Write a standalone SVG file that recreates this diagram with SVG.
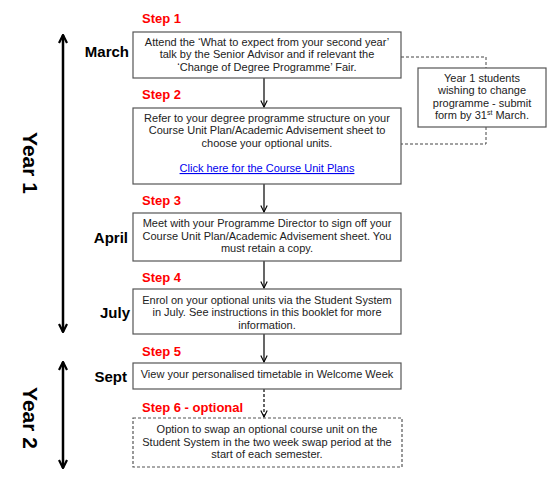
<svg xmlns="http://www.w3.org/2000/svg" width="554" height="483" viewBox="0 0 554 483">
<style>
.box{fill:#fff;stroke:#555;stroke-width:1.2}
.dbox{fill:#fff;stroke:#555;stroke-width:1.2;stroke-dasharray:3,2}
.t{font-family:"Liberation Sans",Arial,sans-serif;font-size:11px;fill:#222;text-anchor:middle}
.step{font-family:"Liberation Sans",Arial,sans-serif;font-size:13px;font-weight:bold;fill:#ff0000}
.mon{font-family:"Liberation Sans",Arial,sans-serif;font-size:15px;font-weight:bold;fill:#000;text-anchor:end}
.yr{font-family:"Liberation Sans",Arial,sans-serif;font-size:21px;font-weight:bold;fill:#000;text-anchor:middle}
.link{fill:#0000ee;text-decoration:underline}
.conn{stroke:#000;stroke-width:1.2;fill:none}
.dconn{stroke:#000;stroke-width:1.2;fill:none;stroke-dasharray:3,2}
.side{stroke:#444;stroke-width:1;fill:none;stroke-dasharray:3,2}
.ya{stroke:#000;stroke-width:2.5;fill:none}
</style>
<defs>
<marker id="ah" viewBox="0 0 10 10" refX="9" refY="5" markerWidth="8" markerHeight="8" markerUnits="userSpaceOnUse" orient="auto">
<path d="M1,1 L9,5 L1,9" fill="none" stroke="#000" stroke-width="1.4"/>
</marker>
<marker id="yh" viewBox="0 0 10 10" refX="9" refY="5" markerWidth="10" markerHeight="10" markerUnits="userSpaceOnUse" orient="auto-start-reverse">
<path d="M1,1 L9,5 L1,9" fill="none" stroke="#000" stroke-width="2.2"/>
</marker>
</defs>

<g id="year1">
<line class="ya" x1="63" y1="35" x2="63" y2="332" marker-start="url(#yh)" marker-end="url(#yh)"/>
<text class="yr" transform="translate(23,163) rotate(90)">Year 1</text>
</g>
<g id="year2">
<line class="ya" x1="63" y1="362" x2="63" y2="468" marker-start="url(#yh)" marker-end="url(#yh)"/>
<text class="yr" transform="translate(23,418) rotate(90)">Year 2</text>
</g>

<g id="connectors">
<line class="conn" x1="264" y1="78" x2="264" y2="107" marker-end="url(#ah)"/>
<line class="conn" x1="264" y1="184" x2="264" y2="212" marker-end="url(#ah)"/>
<line class="conn" x1="264" y1="261" x2="264" y2="288" marker-end="url(#ah)"/>
<line class="conn" x1="264" y1="334" x2="264" y2="362" marker-end="url(#ah)"/>
<line class="dconn" x1="264" y1="389" x2="264" y2="417" marker-end="url(#ah)"/>
<polyline class="side" points="401,57 486,57 486,68"/>
<polyline class="side" points="486,127 486,144 401,144"/>
</g>

<g id="step1">
<text class="step" x="142" y="23">Step 1</text>
<text class="mon" x="129" y="57">March</text>
<rect class="box" x="133" y="32" width="268" height="46"/>
<text class="t" x="267" y="46">Attend the ‘What to expect from your second year’</text>
<text class="t" x="267" y="58">talk by the Senior Advisor and if relevant the</text>
<text class="t" x="267" y="71">‘Change of Degree Programme’ Fair.</text>
</g>

<g id="side-note">
<rect class="box" x="418" y="68" width="128" height="59"/>
<text class="t" x="482" y="82">Year 1 students</text>
<text class="t" x="482" y="94">wishing to change</text>
<text class="t" x="482" y="107">programme - submit</text>
<text class="t" x="482" y="119">form by 31<tspan font-size="7" dy="-4">st</tspan><tspan dy="4"> March.</tspan></text>
</g>

<g id="step2">
<text class="step" x="142" y="99">Step 2</text>
<rect class="box" x="133" y="108" width="268" height="76"/>
<text class="t" x="267" y="122">Refer to your degree programme structure on your</text>
<text class="t" x="267" y="134">Course Unit Plan/Academic Advisement sheet to</text>
<text class="t" x="267" y="147">choose your optional units.</text>
<text class="t link" x="267" y="172">Click here for the Course Unit Plans</text>
</g>

<g id="step3">
<text class="step" x="142" y="205">Step 3</text>
<text class="mon" x="128" y="243">April</text>
<rect class="box" x="133" y="213" width="268" height="48"/>
<text class="t" x="267" y="227">Meet with your Programme Director to sign off your</text>
<text class="t" x="267" y="240">Course Unit Plan/Academic Advisement sheet. You</text>
<text class="t" x="267" y="252">must retain a copy.</text>
</g>

<g id="step4">
<text class="step" x="142" y="282">Step 4</text>
<text class="mon" x="130" y="318">July</text>
<rect class="box" x="133" y="289" width="268" height="45"/>
<text class="t" x="267" y="304">Enrol on your optional units via the Student System</text>
<text class="t" x="267" y="316">in July. See instructions in this booklet for more</text>
<text class="t" x="267" y="329">information.</text>
</g>

<g id="step5">
<text class="step" x="142" y="356">Step 5</text>
<text class="mon" x="127" y="382">Sept</text>
<rect class="box" x="133" y="363" width="268" height="26"/>
<text class="t" x="267" y="378">View your personalised timetable in Welcome Week</text>
</g>

<g id="step6">
<text class="step" x="142" y="412">Step 6 - optional</text>
<rect class="dbox" x="133" y="418" width="269" height="49"/>
<text class="t" x="267" y="433">Option to swap an optional course unit on the</text>
<text class="t" x="267" y="446">Student System in the two week swap period at the</text>
<text class="t" x="267" y="458">start of each semester.</text>
</g>
</svg>
